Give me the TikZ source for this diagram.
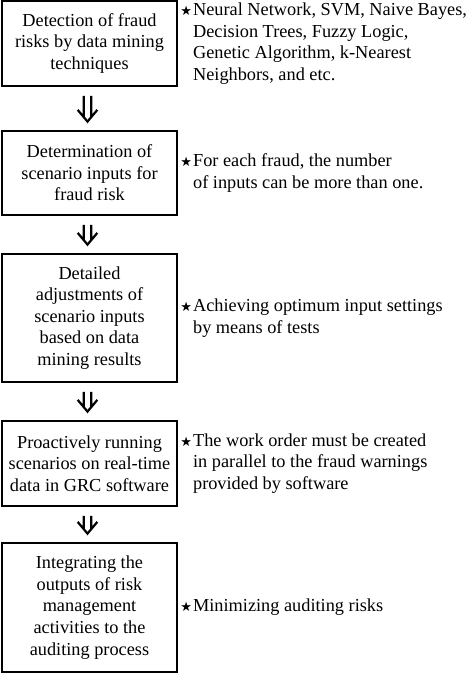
\documentclass[tikz,border=0pt]{standalone}
\usepackage{fontspec}
\setmainfont{Liberation Serif}
\newfontfamily\starfont{DejaVu Sans}
\usetikzlibrary{calc}
\newcommand\starmark{\llap{{\starfont\fontsize{13}{13}\selectfont ★}\kern1pt}}
\tikzset{
  box/.style={draw, line width=2.8pt, minimum width=175pt, align=center, inner sep=0pt,
    font=\fontsize{18.3}{21.6}\selectfont},
  note/.style={anchor=west, align=left, inner sep=0pt,
    font=\fontsize{18.3}{21.6}\selectfont},
  darrow/.style={line width=2.2pt, line join=miter, to path={
    ($(\tikztostart)+(-3.8pt,-8.5pt)$) -- ($(\tikztotarget)+(-3.8pt,12.8pt)$)
    ($(\tikztostart)+(3.8pt,-8.5pt)$) -- ($(\tikztotarget)+(3.8pt,12.8pt)$)
    ($(\tikztotarget)+(-9.8pt,19.7pt)$) -- ($(\tikztotarget)+(0pt,8pt)$) -- ($(\tikztotarget)+(9.8pt,19.7pt)$)
  }}
}
\begin{document}
\begin{tikzpicture}[x=1pt,y=1pt]
\useasboundingbox (0,0) rectangle (474,-674);
\node[box, minimum height=85pt] (b1) at (89.5,-43.5)
  {Detection of fraud\\risks by data mining\\techniques};
\node[box, minimum height=84pt] (b2) at (89.5,-173)
  {Determination of\\scenario inputs for\\fraud risk};
\node[box, minimum height=128pt] (b3) at (89.5,-318)
  {Detailed\\adjustments of\\scenario inputs\\based on data\\mining results};
\node[box, minimum height=85pt] (b4) at (89.5,-463.5)
  {Proactively running\\scenarios on real-time\\data in GRC software};
\node[box, minimum height=129pt] (b5) at (89.5,-607.5)
  {Integrating the\\outputs of risk\\management\\activities to the\\auditing process};

\node[note] (n1) at ([xshift=14.5pt]b1.east)
  {\starmark Neural Network, SVM, Naive Bayes,\\Decision Trees, Fuzzy Logic,\\Genetic Algorithm, k-Nearest\\Neighbors, and etc.};
\node[note] (n2) at ([xshift=14.5pt]b2.east)
  {\starmark For each fraud, the number\\of inputs can be more than one.};
\node[note] (n3) at ([xshift=14.5pt]b3.east)
  {\starmark Achieving optimum input settings\\by means of tests};
\node[note] (n4) at ([xshift=14.5pt]b4.east)
  {\starmark The work order must be created\\in parallel to the fraud warnings\\provided by software};
\node[note] (n5) at ([xshift=14.5pt]b5.east)
  {\starmark Minimizing auditing risks};

\draw[darrow] ([xshift=-2pt]b1.south) to ([xshift=-2pt]b2.north);
\draw[darrow] ([xshift=-2pt]b2.south) to ([xshift=-2pt]b3.north);
\draw[darrow] ([xshift=-2pt]b3.south) to ([xshift=-2pt]b4.north);
\draw[darrow] ([xshift=-2pt]b4.south) to ([xshift=-2pt]b5.north);
\end{tikzpicture}
\end{document}
